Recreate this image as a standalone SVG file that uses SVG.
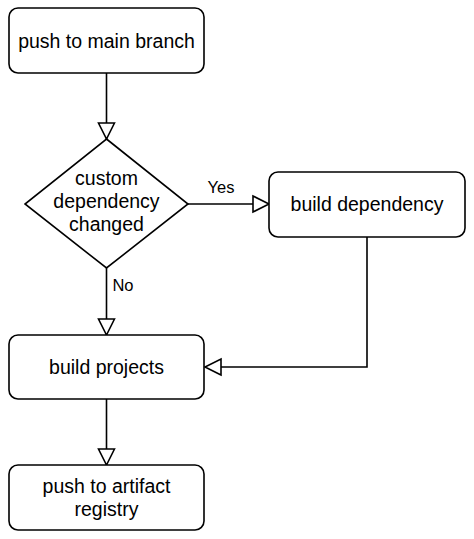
<svg xmlns="http://www.w3.org/2000/svg" width="474" height="539" viewBox="0 0 474 539">
<style>
.n{fill:#fff;stroke:#000;stroke-width:1.6}
.t{font-family:"Liberation Sans",Arial,sans-serif;font-size:19.5px;fill:#000;text-anchor:middle}
.l{font-family:"Liberation Sans",Arial,sans-serif;font-size:16.5px;fill:#000;text-anchor:middle}
.c{fill:none;stroke:#000;stroke-width:1.6}
</style>
<defs>
<marker id="a" markerUnits="userSpaceOnUse" markerWidth="20" markerHeight="20" viewBox="-2 -2 20 20" refX="16" refY="8" orient="auto">
<path d="M0,0 L16,8 L0,16 Z" fill="#fff" stroke="#000" stroke-width="1.6"/>
</marker>
</defs>
<rect width="474" height="539" fill="#fff"/>
<g id="connectors">
<path class="c" d="M106.5,73 V139" marker-end="url(#a)"/>
<path class="c" d="M188,204 H269" marker-end="url(#a)"/>
<path class="c" d="M106.5,268 V335" marker-end="url(#a)"/>
<path class="c" d="M367,237 V367 H205" marker-end="url(#a)"/>
<path class="c" d="M106.5,399 V465" marker-end="url(#a)"/>
<text class="l" x="221" y="193">Yes</text>
<text class="l" x="123" y="291">No</text>
</g>
<g id="push-main">
<rect class="n" x="9" y="8" width="195" height="65" rx="9"/>
<text class="t" x="106.5" y="47.5">push to main branch</text>
</g>
<g id="decision">
<path class="n" d="M106.5,139 L188,204 L106.5,268 L25,204 Z"/>
<text class="t" x="106.5" y="185">custom</text>
<text class="t" x="106.5" y="208">dependency</text>
<text class="t" x="106.5" y="231">changed</text>
</g>
<g id="build-dependency">
<rect class="n" x="269" y="172" width="196" height="65" rx="9"/>
<text class="t" x="367" y="211">build dependency</text>
</g>
<g id="build-projects">
<rect class="n" x="9" y="335" width="195" height="64" rx="9"/>
<text class="t" x="106.5" y="373.5">build projects</text>
</g>
<g id="push-registry">
<rect class="n" x="9" y="465" width="195" height="65" rx="9"/>
<text class="t" x="106.5" y="492.5">push to artifact</text>
<text class="t" x="106.5" y="515.5">registry</text>
</g>
</svg>
